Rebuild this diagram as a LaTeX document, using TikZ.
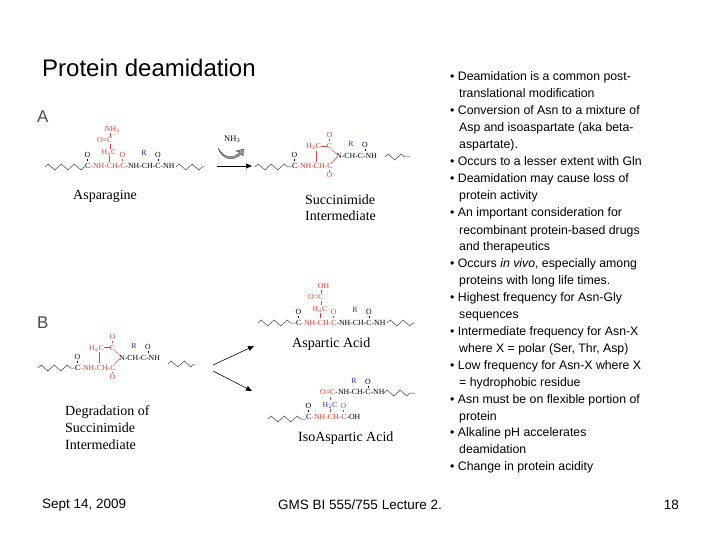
\documentclass[tikz,border=0pt]{standalone}
\usepackage{fontspec}
\setmainfont{Liberation Sans}
\newfontfamily\chemf{Liberation Serif}
\usetikzlibrary{decorations.pathmorphing,arrows.meta}
\definecolor{cred}{RGB}{230,60,40}
\definecolor{cblue}{RGB}{40,40,200}
\tikzset{
 ch/.style={font=\chemf\fontsize{7.8}{7.8}\selectfont,inner sep=0pt,anchor=base},
 chw/.style={ch,anchor=base west},
 wave/.style={draw=black!75,line width=0.5pt,decorate,decoration={zigzag,segment length=13pt,amplitude=3pt}},
 bond/.style={draw=cred,line width=0.4pt},
 kbond/.style={draw=black,line width=0.4pt},
 lab/.style={font=\chemf\fontsize{14}{16}\selectfont,inner sep=0pt,anchor=base west},
 bul/.style={font=\fontsize{12.3}{14}\selectfont,inner sep=0pt,anchor=base west},
 foot/.style={font=\fontsize{13.5}{15}\selectfont,inner sep=0pt},
 rxn/.style={draw,line width=0.6pt,-{Triangle[length=6pt,width=5pt]}}
}
\newcommand\Rd[1]{\textcolor{cred}{#1}}
\begin{document}
\begin{tikzpicture}[x=1pt,y=-1pt]
\useasboundingbox[fill=white] (0,0) rectangle (720,540);
\node[font=\fontsize{24}{26}\selectfont,anchor=west,inner sep=0pt] (title) at (42,68) {Protein deamidation};
\node[font=\fontsize{17}{17}\selectfont\color{black!70},anchor=west,inner sep=0pt] (lA) at (37,117) {A};
\node[font=\fontsize{17}{17}\selectfont\color{black!70},anchor=west,inner sep=0pt] (lB) at (37,323) {B};
% ---------- Asparagine
\draw[wave] (45,167) -- (85,167);
\begin{scope}[shift={(85,169)}]
\node[chw] (a1) at (0,0) {C\Rd{-NH-CH-C}-NH-CH-C-NH};
\node[ch] (a4) at (2.5,-11) {O};
\node[ch,text=cred] (a5) at (37.5,-11) {O};
\node[ch,text=cblue] (a6) at (59,-13) {R};
\node[ch] (a7) at (73,-11) {O};
\draw[kbond] (2.5,-9.5)--(2.5,-7.5); \draw[bond] (37.5,-9.5)--(37.5,-7.5); \draw[kbond] (73,-9.5)--(73,-7.5);
\node[ch,text=cred] (a8) at (24,-14) {H$_2$C};
\draw[bond] (24,-12.5)--(24,-7);
\node[ch,text=cred,anchor=base east] (a9) at (27.5,-26) {O=C};
\draw[bond] (25,-24.5)--(25,-20);
\node[ch,text=cred] (a10) at (27.5,-37) {NH$_2$};
\draw[bond] (25,-35.5)--(25,-32);
\end{scope}
\draw[wave] (176,167) -- (205,167);
\node[lab] (la) at (73,200) {Asparagine};
% ---------- arrow A
\coordinate (ra1) at (217,166); \coordinate (ra2) at (252,166);
\draw[rxn] (ra1) -- (ra2);
\node[ch,font=\chemf\fontsize{8.5}{8.5}\selectfont,anchor=west] (nh3) at (224,139) {NH$_3$};
\draw[fill=black!40,draw=black!70] (218,148) .. controls (225,160) and (235,158) .. (240,152) -- (236,151) -- (244,149) -- (243,156) -- (241,154) .. controls (234,162) and (222,160) .. (218,148);
% ---------- Succinimide A
\draw[wave] (255,167) -- (292,167);
\begin{scope}[shift={(292,169)}]
\node[chw] (s1) at (0,0) {C\Rd{-NH-CH-C}};
\node[ch] (s3) at (2.5,-11) {O};
\draw[kbond] (2.5,-9.5)--(2.5,-7.5);
\node[ch,text=cred] (s4) at (21.5,-20) {H$_2$C};
\draw[bond] (24,-18)--(24,-7);
\node[ch,text=cred] (s5) at (37.5,-20) {C};
\draw[bond] (29,-22.5)--(34.5,-22.5);
\node[ch,text=cred] (s6) at (37.5,-31) {O};
\draw[bond] (37.5,-29.5)--(37.5,-27.5);
\node[ch,text=cred] (s7) at (37.5,9) {O};
\draw[bond] (37.5,1.5)--(37.5,3);
\node[chw] (s8) at (44,-10) {N-CH-C-NH};
\draw[bond] (39.5,-19.5)--(44.5,-15);
\draw[bond] (39.5,-6)--(44.5,-11);
\node[ch,text=cblue] (s9) at (59,-22) {R};
\node[ch] (s10) at (73,-21) {O};
\draw[kbond] (73,-19.5)--(73,-17.5);
\end{scope}
\draw[wave] (385,157) -- (410,157);
\node[lab] (ls1) at (305,205) {Succinimide};
\node[lab] (ls2) at (305,221) {Intermediate};
% ---------- Succinimide B
\draw[wave] (38,368) -- (75,368);
\begin{scope}[shift={(75,370)}]
\node[chw] (b1) at (0,0) {C\Rd{-NH-CH-C}};
\node[ch] (b3) at (2.5,-11) {O};
\draw[kbond] (2.5,-9.5)--(2.5,-7.5);
\node[ch,text=cred] (b4) at (21.5,-20) {H$_2$C};
\draw[bond] (24,-18)--(24,-7);
\node[ch,text=cred] (b5) at (37.5,-20) {C};
\draw[bond] (29,-22.5)--(34.5,-22.5);
\node[ch,text=cred] (b6) at (37.5,-31) {O};
\draw[bond] (37.5,-29.5)--(37.5,-27.5);
\node[ch,text=cred] (b7) at (37.5,9) {O};
\draw[bond] (37.5,1.5)--(37.5,3);
\node[chw] (b8) at (44,-10) {N-CH-C-NH};
\draw[bond] (39.5,-19.5)--(44.5,-15);
\draw[bond] (39.5,-6)--(44.5,-11);
\node[ch,text=cblue] (b9) at (59,-22) {R};
\node[ch] (b10) at (73,-21) {O};
\draw[kbond] (73,-19.5)--(73,-17.5);
\end{scope}
\draw[wave] (168,364) -- (195,364);
\node[lab] (lb1) at (65,415) {Degradation of};
\node[lab] (lb2) at (65,432) {Succinimide};
\node[lab] (lb3) at (65,449) {Intermediate};
% arrows B
\coordinate (rb0) at (213,365); \coordinate (rb1) at (254,346);
\coordinate (rc0) at (213,371); \coordinate (rc1) at (252,391);
\draw[rxn] (rb0) -- (rb1);
\draw[rxn] (rc0) -- (rc1);
% ---------- Aspartic acid
\draw[wave] (258,323) -- (296,323);
\begin{scope}[shift={(296,325)}]
\node[chw] (p1) at (0,0) {C\Rd{-NH-CH-C}-NH-CH-C-NH};
\node[ch] (p4) at (2.5,-11) {O};
\node[ch,text=cred] (p5) at (37.5,-11) {O};
\node[ch,text=cblue] (p6) at (59,-13) {R};
\node[ch] (p7) at (73,-11) {O};
\draw[kbond] (2.5,-9.5)--(2.5,-7.5); \draw[bond] (37.5,-9.5)--(37.5,-7.5); \draw[kbond] (73,-9.5)--(73,-7.5);
\node[ch,text=cred] (p8) at (24,-14) {H$_2$C};
\draw[bond] (24,-12.5)--(24,-7);
\node[ch,text=cred,anchor=base east] (p9) at (27.5,-26) {O=C};
\draw[bond] (25,-24.5)--(25,-20);
\node[ch,text=cred] (p10) at (27.5,-37) {OH};
\draw[bond] (25,-35.5)--(25,-32);
\end{scope}
\draw[wave] (387,323) -- (415,323);
\node[lab] (lp) at (292,347) {Aspartic Acid};
% ---------- IsoAspartic acid
\begin{scope}[shift={(306,419)}]
\node[chw] (i6) at (0,0) {C\Rd{-NH-CH-C}-OH};
\node[ch] (i9) at (2.5,-11) {O};
\draw[kbond] (2.5,-9.5)--(2.5,-7.5);
\node[ch,text=cred] (i10) at (37.5,-11) {O};
\draw[bond] (37.5,-9.5)--(37.5,-7.5);
\node[ch,text=cblue] (i5) at (24,-12) {H$_2$C};
\draw[bond] (24,-10.5)--(24,-7);
\node[chw] (i1) at (14,-25) {\Rd{O=C}-NH-CH-C-NH};
\draw[bond] (24,-22)--(24,-19);
\node[ch,text=cblue] (i3) at (48,-36) {R};
\node[ch] (i4) at (62,-35) {O};
\draw[kbond] (62,-33.5)--(62,-31.5);
\end{scope}
\draw[wave] (384,393) -- (415,393);
\draw[wave] (268,419) -- (306,419);
\node[lab] (li) at (298,441) {IsoAspartic Acid};
% ---------- bullets
\foreach \y/\t [count=\i] in {
81/{• Deamidation is a common post-},
115/{• Conversion of Asn to a mixture of},
166/{• Occurs to a lesser extent with Gln},
183/{• Deamidation may cause loss of},
217/{• An important consideration for},
267/{• Occurs \textit{in vivo}, especially among},
301/{• Highest frequency for Asn-Gly},
335/{• Intermediate frequency for Asn-X},
369/{• Low frequency for Asn-X where X},
403/{• Asn must be on flexible portion of},
436/{• Alkaline pH accelerates},
470/{• Change in protein acidity}}
 \node[bul] (t\i) at (450,\y) {\t};
\foreach \y/\t [count=\i] in {
98/{translational modification},
132/{Asp and isoaspartate (aka beta-},
149/{aspartate).},
200/{protein activity},
234/{recombinant protein-based drugs},
250/{and therapeutics},
284/{proteins with long life times.},
318/{sequences},
352/{where X = polar (Ser, Thr, Asp)},
386/{= hydrophobic residue},
420/{protein},
453/{deamidation}}
 \node[bul] (u\i) at (459,\y) {\t};
% footer
\node[foot,anchor=west] (f1) at (42,505) {Sept 14, 2009};
\node[foot] (f2) at (360,505) {GMS BI 555/755 Lecture 2.};
\node[foot,anchor=east] (f3) at (679,505) {18};
\end{tikzpicture}
\end{document}
